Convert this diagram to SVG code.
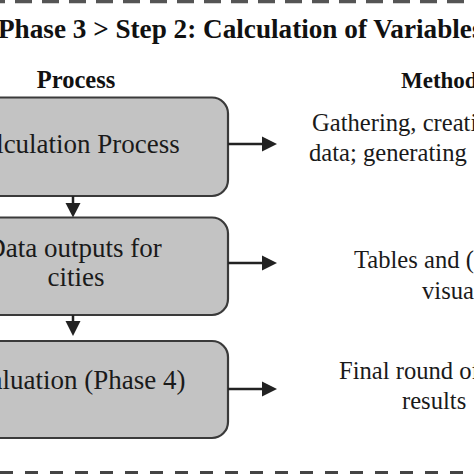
<svg xmlns="http://www.w3.org/2000/svg" width="474" height="474" viewBox="0 0 474 474">
<defs>
<style>
.box{fill:#c3c3c3;stroke:#3a3a3a;stroke-width:2.2}
.bt{font-family:"Liberation Serif",serif;font-size:27px;fill:#1a1a1a;text-anchor:middle}
.mt{font-family:"Liberation Serif",serif;font-size:24.6px;fill:#1a1a1a}
.hd{font-family:"Liberation Serif",serif;font-weight:bold;fill:#111}
.ln{stroke:#222;stroke-width:2.5;fill:none}
.ah{fill:#222}
</style>
</defs>
<rect width="474" height="474" fill="#fff"/>
<line x1="0" y1="1.5" x2="474" y2="1.5" stroke="#555" stroke-width="3.5" stroke-dasharray="17 10" stroke-dashoffset="12"/>
<line x1="0" y1="472.5" x2="474" y2="472.5" stroke="#444" stroke-width="3.2" stroke-dasharray="13 12"/>
<text class="hd" x="-2" y="38" font-size="27.2">Phase 3 &gt; Step 2: Calculation of Variables</text>
<text class="hd" x="76" y="88" font-size="24.5" text-anchor="middle">Process</text>
<text class="hd" x="401" y="88" font-size="23">Methods</text>
<g id="node1">
<rect class="box" x="-90" y="97.5" width="318" height="98.5" rx="16"/>
<text class="bt" x="73" y="153">Calculation Process</text>
</g>
<g id="node2">
<rect class="box" x="-90" y="217.5" width="318" height="97.5" rx="16"/>
<text class="bt" x="74" y="257">Data outputs for</text>
<text class="bt" x="76" y="286">cities</text>
</g>
<g id="node3">
<rect class="box" x="-90" y="341" width="318" height="97" rx="16"/>
<text class="bt" x="73" y="389">Evaluation (Phase 4)</text>
</g>
<g id="method1">
<text class="mt" x="312" y="131">Gathering, creating</text>
<text class="mt" x="309" y="161">data; generating</text>
</g>
<g id="method2">
<text class="mt" x="354" y="268">Tables and (</text>
<text class="mt" x="422" y="299">visual</text>
</g>
<g id="method3">
<text class="mt" x="339" y="379">Final round of</text>
<text class="mt" x="402" y="409">results</text>
</g>
<g id="connectors">
<line class="ln" x1="73" y1="196" x2="73" y2="205"/>
<polygon class="ah" points="65.5,203 80.5,203 73,217.5"/>
<line class="ln" x1="73" y1="315" x2="73" y2="323"/>
<polygon class="ah" points="65.5,321 80.5,321 73,336"/>
<line class="ln" x1="228" y1="144" x2="264" y2="144"/>
<polygon class="ah" points="262,136.5 262,151.5 277,144"/>
<line class="ln" x1="228" y1="263" x2="264" y2="263"/>
<polygon class="ah" points="262,255.5 262,270.5 277,263"/>
<line class="ln" x1="228" y1="389" x2="264" y2="389"/>
<polygon class="ah" points="262,381.5 262,396.5 277,389"/>
</g>
</svg>
